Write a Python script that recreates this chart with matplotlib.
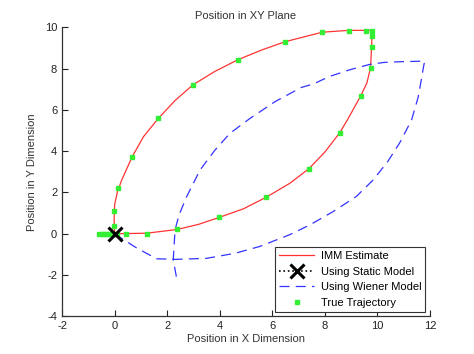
import matplotlib
matplotlib.use("Agg")
import matplotlib.pyplot as plt

plt.rcParams['font.family'] = ['Liberation Sans', 'DejaVu Sans']
plt.rcParams['axes.unicode_minus'] = False

# true trajectory samples (green markers)
true_x = [-0.6, -0.5, -0.4, -0.3, -0.2, -0.1, 0.0, 0.1, 0.43, 1.23, 2.38, 3.97, 5.78, 7.39,
          8.57, 9.36, 9.74, 9.78, 9.81, 9.8, 9.55, 8.91, 7.9, 6.49, 4.68, 2.97,
          1.66, 0.67, 0.14, -0.03, -0.03]
true_y = [0.0, 0.0, 0.0, 0.0, 0.0, 0.0, 0.0, 0.0, 0.0, 0.0, 0.2, 0.78, 1.77, 3.14,
          4.89, 6.66, 8.03, 9.05, 9.59, 9.84, 9.84, 9.84, 9.75, 9.29, 8.41, 7.2,
          5.58, 3.73, 2.2, 1.1, 0.38]

# IMM estimate
imm_x = [0.0, 0.43, 1.23, 2.38, 3.2, 3.97, 4.9, 5.78, 6.67, 7.39, 8.0, 8.57, 8.89,
         9.36, 9.6, 9.74, 9.78, 9.8, 9.55, 8.91, 7.9, 6.49, 5.6, 4.68, 3.8, 2.97,
         2.3, 1.66, 1.1, 0.67, 0.27, 0.1, 0.0, -0.02, 0.0]
imm_y = [0.0, 0.0, 0.02, 0.2, 0.45, 0.78, 1.2, 1.77, 2.44, 3.14, 3.95, 4.89, 5.58,
         6.66, 7.3, 8.03, 9.05, 9.84, 9.85, 9.85, 9.76, 9.3, 8.9, 8.42, 7.85, 7.2,
         6.45, 5.58, 4.7, 3.73, 2.6, 2.0, 1.4, 0.7, 0.0]

# static model
static_x = [0.0]
static_y = [0.0]

# Wiener model
wien_x = [0.0, 0.14, 0.84, 1.6, 2.3, 3.5, 4.6, 5.53, 6.67, 7.43, 8.32, 9.2, 9.84,
          10.4, 10.85, 11.3, 11.55, 11.68, 11.75, 11.8, 10.9, 10.28, 9.71, 8.95,
          8.19, 7.56, 7.1, 6.1, 5.15, 4.39, 3.82, 3.25, 2.74, 2.45, 2.3, 2.23, 2.36]
wien_y = [0.0, -0.13, -0.7, -1.22, -1.25, -1.2, -0.95, -0.62, -0.05, 0.42, 1.07, 1.8,
          2.6, 3.5, 4.4, 5.5, 6.6, 7.5, 8.04, 8.36, 8.33, 8.3, 8.2, 7.94, 7.62, 7.25,
          7.08, 6.39, 5.58, 4.86, 4.05, 3.08, 1.79, 0.9, 0.18, -1.27, -2.16]

fig = plt.figure(figsize=(4.74, 3.54), dpi=100)
ax = fig.add_axes([0.131, 0.107, 0.776, 0.816])

ax.plot(imm_x, imm_y, color='#ff3333', lw=0.9, label='IMM Estimate', zorder=2)
ax.plot(static_x, static_y, color='black', ls=':', marker='x', ms=10, mew=2.2,
        lw=1.2, label='Using Static Model', zorder=4)
ax.plot(wien_x, wien_y, color='#3333ff', lw=0.9, dashes=(8, 5),
        label='Using Wiener Model', zorder=2)
ax.plot(true_x, true_y, ls='none', marker='s', ms=2.5, color='#33ee33',
        mec='#33ee33', label='True Trajectory', zorder=3)

ax.set_xlim(-2, 12)
ax.set_ylim(-4, 10)
ax.set_xticks(range(-2, 13, 2))
ax.set_yticks(range(-4, 11, 2))
ax.spines['top'].set_visible(False)
ax.spines['right'].set_visible(False)
for s in ('left', 'bottom'):
    ax.spines[s].set_color('#333333')
    ax.spines[s].set_linewidth(0.9)
ax.tick_params(direction='in', length=4, labelsize=8, colors='#222222')

ax.set_title('Position in XY Plane', fontsize=8, color='#333333', pad=6)
ax.set_xlabel('Position in X Dimension', fontsize=8, color='#333333', labelpad=2)
ax.set_ylabel('Position in Y Dimension', fontsize=8, color='#333333', labelpad=6)

leg = ax.legend(loc='lower right', fontsize=8, fancybox=False, framealpha=1,
                edgecolor='#333333', borderpad=0.35, labelspacing=0.5,
                handlelength=3.2, handletextpad=0.6, borderaxespad=0.4)
leg.get_frame().set_linewidth(0.8)

fig.savefig('out.png', dpi=100)
